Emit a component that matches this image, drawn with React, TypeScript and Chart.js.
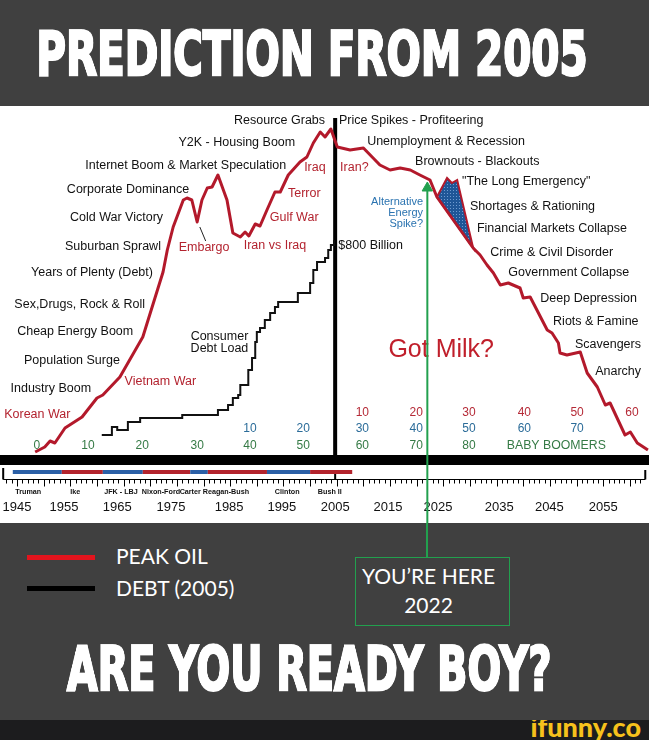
import React, { useEffect, useRef } from 'react';
import { Chart, registerables } from 'chart.js';

Chart.register(...registerables);

// ---------- scale ranges ----------
const YEAR_MIN = 1941.8;
const YEAR_MAX = 2063.6;
const LEVEL_MIN = -68;
const LEVEL_MAX = 349;

// ---------- peak oil curve ----------
const OIL_YEARS = [1948.4, 1950.2, 1951.2, 1952.1, 1954.0, 1957.2, 1960.0, 1961.1, 1964.3, 1968.6, 1972.4, 1973.2, 1974.3, 1976.2, 1976.9, 1977.8, 1978.8, 1979.7, 1980.7, 1981.6, 1982.7, 1984.4, 1985.5, 1986.9, 1987.8, 1988.5, 1989.7, 1990.6, 1991.9, 1993.4, 1994.4, 1995.9, 1998.1, 1999.4, 2000.6, 2001.9, 2002.8, 2003.9, 2005.1, 2007.5, 2010.0, 2013.1, 2015.0, 2016.9, 2018.8, 2020.6, 2022.5, 2023.8, 2030.6, 2031.9, 2033.2, 2034.4, 2035.7, 2037.2, 2039.4, 2040.0, 2041.3, 2044.5, 2045.4, 2046.6, 2046.9, 2048.2, 2050.7, 2052.0, 2053.9, 2055.4, 2056.3, 2059.1, 2060.1, 2061.4, 2063.4];
const OIL_LEVEL = [3, 8, 14, 12, 27, 38, 57, 60, 78, 118, 183, 205, 228, 255, 257, 255, 233, 255, 267, 268, 280, 255, 222, 218, 223, 219, 231, 229, 245, 263, 263, 280, 293, 298, 312, 323, 318, 326, 308, 305, 307, 290, 285, 287, 285, 280, 275, 258, 207, 200, 190, 182, 170, 172, 167, 157, 158, 125, 122, 112, 102, 100, 103, 82, 68, 50, 52, 20, 23, 12, 5];

// ---------- alternative energy spike ----------
const SPIKE_YEARS = [2023.8, 2025.7, 2026.6, 2027.6, 2030.6, 2023.8];
const SPIKE_LEVEL = [258, 277, 272, 275, 207, 258];

// ---------- consumer debt load ----------
const DEBT_YEARS = [1960.9, 1962.8, 1963.8, 1965.8, 1968.1, 1976.0, 1982.7, 1984.6, 1985.5, 1986.5, 1986.9, 1988.4, 1989.1, 1989.7, 1990.0, 1990.6, 1991.5, 1992.5, 1993.4, 1994.0, 1997.7, 2000.0, 2000.6, 2001.3, 2002.8, 2003.4, 2003.9, 2004.5];
const DEBT_LEVEL = [20, 28, 25, 33, 37, 40, 45, 50, 57, 60, 70, 85, 97, 113, 123, 127, 135, 142, 148, 153, 162, 172, 185, 193, 197, 205, 210, 215];

// ---------- markers ----------
const MARK_2005_YEAR = 2004.7;
const MARK_2005_TOP = 337;
const NOW_YEAR = 2022;
const NOW_TOP = 266;
const NOW_ARROW = 267;
const EMBARGO_POINTER_YEARS = [1979.3, 1980.4];
const EMBARGO_POINTER_LEVEL = [228, 214];

// ---------- presidents ----------
const TERM_BOUNDS = [1944.2, 1953.4, 1961.1, 1968.6, 1977.5, 1980.8, 1991.9, 2000.0, 2007.9];
const TERM_PARTY = ['D', 'R', 'D', 'R', 'D', 'R', 'D', 'R'];
const PRESIDENTS = ['Truman', 'Ike', 'JFK - LBJ', 'Nixon-Ford', 'Carter', 'Reagan-Bush', 'Clinton', 'Bush II'];
const PRESIDENT_YEARS = [1947.1, 1955.9, 1964.5, 1972.0, 1977.5, 1984.2, 1995.7, 2003.7];

// ---------- time axis ----------
const DECADE_LABELS = ['1945', '1955', '1965', '1975', '1985', '1995', '2005', '2015', '2025', '2035', '2045', '2055'];
const DECADE_YEARS = [1945.0, 1953.8, 1963.8, 1973.9, 1984.8, 1994.7, 2004.7, 2014.6, 2024.0, 2035.5, 2044.9, 2055.0];
const RULER_START = 1942.4;
const RULER_END = 2062.9;

// ---------- generation ages ----------
const AGE_TICK_YEARS = [1948.7, 1958.3, 1968.5, 1978.8, 1988.7, 1998.7, 2009.8, 2019.9, 2029.8, 2040.2, 2050.1, 2060.4];
const BOOMER_AGES = ['0', '10', '20', '30', '40', '50', '60', '70', '80'];
const GENX_AGES = ['10', '20', '30', '40', '50', '60', '70'];
const MILLENNIAL_AGES = ['10', '20', '30', '40', '50', '60'];

// ---------- annotations ----------
const RISE_EVENTS = ['Resource Grabs', 'Y2K - Housing Boom', 'Internet Boom & Market Speculation', 'Corporate Dominance', 'Cold War Victory', 'Suburban Sprawl', 'Years of Plenty (Debt)', 'Sex,Drugs, Rock & Roll', 'Cheap Energy Boom', 'Population Surge', 'Industry Boom'];
const RISE_EVENT_YEARS = [2002.8, 1997.2, 1995.5, 1977.3, 1972.4, 1972.0, 1970.5, 1969.0, 1966.8, 1964.3, 1958.9];
const RISE_EVENT_LEVEL = [334, 312, 289, 265, 237, 208, 182, 150, 123, 94, 66];

const FALL_EVENTS = ['Price Spikes - Profiteering', 'Unemployment & Recession', 'Brownouts - Blackouts', '"The Long Emergency"', 'Shortages & Rationing', 'Financial Markets Collapse', 'Crime & Civil Disorder', 'Government Collapse', 'Deep Depression', 'Riots & Famine', 'Scavengers', 'Anarchy'];
const FALL_EVENT_YEARS = [2005.4, 2010.7, 2019.7, 2028.5, 2030.0, 2031.3, 2033.8, 2037.2, 2043.2, 2045.6, 2049.7, 2053.5];
const FALL_EVENT_LEVEL = [334, 313, 293, 273, 248, 226, 202, 182, 156, 133, 110, 83];

const CONFLICTS = ['Korean War', 'Vietnam War', 'Embargo', 'Iran vs Iraq', 'Gulf War', 'Terror', 'Iraq', 'Iran?'];
const CONFLICT_YEARS = [1948.8, 1971.9, 1980.1, 1993.4, 1997.0, 1998.9, 2000.9, 2008.3];
const CONFLICT_LEVEL = [40, 73, 207, 209, 237, 261, 287, 287];

const ALT_ENERGY_LINES = ['Alternative', 'Energy', 'Spike?'];
const ALT_ENERGY_YEAR = 2021.2;
const ALT_ENERGY_LEVEL = [253, 242, 231];

const DEBT_NOTE_LINES = ['Consumer', 'Debt Load'];
const DEBT_NOTE_YEAR = 1988.4;
const DEBT_NOTE_LEVEL = [118, 106];
const DEBT_2005_TEXT = '$800 Billion';
const DEBT_2005_YEAR = 2005.3;
const DEBT_2005_LEVEL = 209;

const MILK_TEXT = 'Got Milk?';
const MILK_YEAR = 2024.6;
const MILK_LEVEL = 105;

const BOOMERS_TEXT = 'BABY BOOMERS';
const BOOMERS_YEAR = 2046.2;

// row levels
const BAR_TOP = 0;
const BAR_BOTTOM = -10;
const TERM_LEVEL = -17;
const RULER_LEVEL = -24;
const PRESIDENT_LEVEL = -37;
const DECADE_LEVEL = -52;
const BOOMER_LEVEL = 9;
const GENX_LEVEL = 26;
const MILLENNIAL_LEVEL = 42;

// ---------- colours ----------
const OIL_RED = '#b3192b';
const LABEL_RED = '#b3232f';
const DEM_BLUE = '#2a5fa6';
const REP_RED = '#b3232c';
const NOW_GREEN = '#22a04e';
const AGE_GREEN = '#357a45';
const AGE_BLUE = '#2b6c99';
const AGE_RED = '#b52a37';
const SANS = '"Liberation Sans", Arial, sans-serif';

function pts(xs: number[], ys: number[]) {
  return xs.map((x, i) => ({ x, y: ys[i] }));
}

function BannerText({ text, left, top, width, height }: { text: string; left: number; top: number; width: number; height: number }) {
  const ref = useRef<HTMLCanvasElement>(null);
  useEffect(() => {
    let cancelled = false;
    const font = 'bold 100px "Liberation Sans Narrow", "DejaVu Sans Condensed", "Liberation Sans", sans-serif';
    const draw = () => {
      if (cancelled) return;
      const canvas = ref.current;
      if (!canvas) return;
      const ctx = canvas.getContext('2d');
      if (!ctx) return;
      const off = document.createElement('canvas');
      const octx = off.getContext('2d')!;
      const lw = 4;
      octx.font = font;
      const m = octx.measureText(text);
      const inkW = m.actualBoundingBoxLeft + m.actualBoundingBoxRight;
      const inkH = m.actualBoundingBoxAscent + m.actualBoundingBoxDescent;
      const pad = 4;
      off.width = Math.ceil(inkW + lw + pad * 2);
      off.height = Math.ceil(inkH + lw + pad * 2);
      octx.font = font;
      octx.fillStyle = '#fff';
      octx.strokeStyle = '#fff';
      octx.lineWidth = lw;
      octx.lineJoin = 'miter';
      const ox = pad + lw / 2 + m.actualBoundingBoxLeft;
      const oy = pad + lw / 2 + m.actualBoundingBoxAscent;
      octx.fillText(text, ox, oy);
      octx.strokeText(text, ox, oy);
      ctx.clearRect(0, 0, width, height);
      ctx.drawImage(off, pad, pad, inkW + lw, inkH + lw, 0, 0, width, height);
    };
    (document as any).fonts.load(font, text).then(draw, draw);
    return () => {
      cancelled = true;
    };
  }, [text, width, height]);
  return <canvas ref={ref} width={width} height={height} style={{ position: 'absolute', left, top, width, height }} />;
}

export default function App() {
  const canvasRef = useRef<HTMLCanvasElement>(null);

  useEffect(() => {
    const canvas = canvasRef.current;
    if (!canvas) return;
    let chart: Chart | null = null;
    let cancelled = false;

    const build = () => {
      if (cancelled) return;
      const pc = document.createElement('canvas');
      pc.width = 3;
      pc.height = 3;
      const pctx = pc.getContext('2d')!;
      pctx.fillStyle = '#1f5697';
      pctx.fillRect(0, 0, 3, 3);
      pctx.fillStyle = '#6f9bd0';
      pctx.fillRect(0, 0, 1, 1);
      const pattern = canvas.getContext('2d')!.createPattern(pc, 'repeat');

      const text = (ctx: CanvasRenderingContext2D, s: string, x: number, y: number, align: CanvasTextAlign, font: string, color: string) => {
        ctx.font = font;
        ctx.fillStyle = color;
        ctx.textAlign = align;
        ctx.textBaseline = 'middle';
        ctx.fillText(s, x, y);
      };

      const overlay = {
        id: 'overlay',
        beforeDraw(c: any) {
          const ctx = c.ctx as CanvasRenderingContext2D;
          ctx.save();
          ctx.fillStyle = '#ffffff';
          ctx.fillRect(0, 0, c.width, c.height);
          ctx.restore();
        },
        beforeDatasetsDraw(c: any) {
          const ctx = c.ctx as CanvasRenderingContext2D;
          const xs = c.scales.x;
          const ys = c.scales.y;
          const px = (v: number) => xs.getPixelForValue(v);
          const py = (v: number) => ys.getPixelForValue(v);
          ctx.save();
          // thick black bar
          ctx.fillStyle = '#000';
          ctx.fillRect(0, py(BAR_TOP), c.width, py(BAR_BOTTOM) - py(BAR_TOP));

          // ruler
          const base = Math.round(py(RULER_LEVEL)) + 0.5;
          ctx.strokeStyle = '#000';
          ctx.lineWidth = 1;
          ctx.beginPath();
          ctx.moveTo(px(RULER_START), base);
          ctx.lineTo(px(RULER_END), base);
          for (let yr = Math.ceil(RULER_START); yr <= RULER_END; yr++) {
            const x = Math.round(px(yr)) + 0.5;
            const len = yr % 5 === 0 ? 7 : 4;
            ctx.moveTo(x, base);
            ctx.lineTo(x, base + len);
          }
          ctx.stroke();
          ctx.lineWidth = 2;
          ctx.beginPath();
          ctx.moveTo(px(RULER_START), py(BAR_BOTTOM - 3));
          ctx.lineTo(px(RULER_START), base);
          ctx.moveTo(px(MARK_2005_YEAR), py(TERM_LEVEL));
          ctx.lineTo(px(MARK_2005_YEAR), base);
          ctx.moveTo(px(RULER_END), py(BAR_BOTTOM - 5));
          ctx.lineTo(px(RULER_END), base);
          ctx.stroke();

          // presidents
          PRESIDENTS.forEach((p, i) => text(ctx, p, px(PRESIDENT_YEARS[i]), py(PRESIDENT_LEVEL), 'center', 'bold 7.2px ' + SANS, '#111'));
          // decades
          DECADE_LABELS.forEach((d, i) => text(ctx, d, px(DECADE_YEARS[i]), py(DECADE_LEVEL), 'center', '13px ' + SANS, '#111'));

          // generation ages
          BOOMER_AGES.forEach((a, i) => text(ctx, a, px(AGE_TICK_YEARS[i]), py(BOOMER_LEVEL), 'center', '12px ' + SANS, AGE_GREEN));
          GENX_AGES.forEach((a, i) => text(ctx, a, px(AGE_TICK_YEARS[i + 4]), py(GENX_LEVEL), 'center', '12px ' + SANS, AGE_BLUE));
          MILLENNIAL_AGES.forEach((a, i) => text(ctx, a, px(AGE_TICK_YEARS[i + 6]), py(MILLENNIAL_LEVEL), 'center', '12px ' + SANS, AGE_RED));
          text(ctx, BOOMERS_TEXT, px(BOOMERS_YEAR), py(BOOMER_LEVEL), 'center', '12.3px ' + SANS, AGE_GREEN);

          // events
          const ev = '12.5px ' + SANS;
          RISE_EVENTS.forEach((e, i) => text(ctx, e, px(RISE_EVENT_YEARS[i]), py(RISE_EVENT_LEVEL[i]), 'right', ev, '#111'));
          FALL_EVENTS.forEach((e, i) => text(ctx, e, px(FALL_EVENT_YEARS[i]), py(FALL_EVENT_LEVEL[i]), 'left', ev, '#111'));
          CONFLICTS.forEach((e, i) => text(ctx, e, px(CONFLICT_YEARS[i]), py(CONFLICT_LEVEL[i]), 'center', ev, LABEL_RED));
          ALT_ENERGY_LINES.forEach((e, i) => text(ctx, e, px(ALT_ENERGY_YEAR), py(ALT_ENERGY_LEVEL[i]), 'right', '11px ' + SANS, '#2a73b0'));
          DEBT_NOTE_LINES.forEach((e, i) => text(ctx, e, px(DEBT_NOTE_YEAR), py(DEBT_NOTE_LEVEL[i]), 'right', ev, '#111'));
          text(ctx, DEBT_2005_TEXT, px(DEBT_2005_YEAR), py(DEBT_2005_LEVEL), 'left', ev, '#111');
          text(ctx, MILK_TEXT, px(MILK_YEAR), py(MILK_LEVEL), 'center', '25px ' + SANS, '#c01f2b');
          ctx.restore();
        },
      };

      chart = new Chart(canvas, {
        type: 'line',
        data: {
          datasets: [
            {
              data: pts([NOW_YEAR], [NOW_ARROW]),
              pointStyle: 'triangle',
              pointRadius: 6,
              pointBackgroundColor: NOW_GREEN,
              pointBorderColor: NOW_GREEN,
              showLine: false,
              order: 0,
            },
            {
              data: pts([NOW_YEAR, NOW_YEAR], [LEVEL_MIN, NOW_TOP]),
              borderColor: NOW_GREEN,
              borderWidth: 2,
              pointRadius: 0,
              order: 1,
            },
            {
              data: pts(OIL_YEARS, OIL_LEVEL),
              borderColor: OIL_RED,
              borderWidth: 3,
              borderJoinStyle: 'round',
              pointRadius: 0,
              order: 2,
            },
            {
              data: pts(SPIKE_YEARS, SPIKE_LEVEL),
              borderColor: OIL_RED,
              borderWidth: 2,
              backgroundColor: pattern as any,
              fill: 'shape',
              pointRadius: 0,
              order: 3,
            },
            {
              data: pts(DEBT_YEARS, DEBT_LEVEL),
              borderColor: '#111',
              borderWidth: 2,
              stepped: 'before',
              pointRadius: 0,
              order: 4,
            },
            {
              data: pts([MARK_2005_YEAR, MARK_2005_YEAR], [BAR_TOP, MARK_2005_TOP]),
              borderColor: '#000',
              borderWidth: 4,
              pointRadius: 0,
              order: 5,
            },
            {
              data: pts(TERM_BOUNDS, TERM_BOUNDS.map(() => TERM_LEVEL)),
              borderWidth: 4,
              borderCapStyle: 'butt',
              pointRadius: 0,
              segment: {
                borderColor: (ctx: any) => (TERM_PARTY[ctx.p0DataIndex] === 'D' ? DEM_BLUE : REP_RED),
              },
              order: 6,
            },
            {
              data: pts(EMBARGO_POINTER_YEARS, EMBARGO_POINTER_LEVEL),
              borderColor: '#222',
              borderWidth: 1,
              pointRadius: 0,
              order: 7,
            },
          ] as any,
        },
        options: {
          animation: false,
          responsive: false,
          maintainAspectRatio: false,
          devicePixelRatio: 1,
          events: [],
          layout: { padding: 0, autoPadding: false },
          plugins: {
            legend: { display: false },
            tooltip: { enabled: false },
            title: { display: false },
          },
          scales: {
            x: { type: 'linear', min: YEAR_MIN, max: YEAR_MAX, display: false },
            y: { type: 'linear', min: LEVEL_MIN, max: LEVEL_MAX, display: false },
          },
          elements: { line: { tension: 0 }, point: { radius: 0 } },
        },
        plugins: [overlay],
      } as any);
    };

    const fonts = (document as any).fonts;
    Promise.all([fonts.load('12px "Liberation Sans"'), fonts.load('bold 12px "Liberation Sans"')]).then(build, build);

    return () => {
      cancelled = true;
      if (chart) chart.destroy();
    };
  }, []);

  const lato = 'Lato, "Open Sans", sans-serif';
  return (
    <div style={{ position: 'fixed', left: 0, top: 0, width: 649, height: 740, background: '#404040', overflow: 'hidden' }}>
      <BannerText text="PREDICTION FROM 2005" left={39} top={28} width={547} height={49} />
      <canvas ref={canvasRef} width={649} height={417} style={{ position: 'absolute', left: 0, top: 106, width: 649, height: 417 }} />
      <div style={{ position: 'absolute', left: 426, top: 523, width: 2, height: 34, background: NOW_GREEN }} />
      <div style={{ position: 'absolute', left: 27, top: 555, width: 68, height: 5, background: '#e3141d' }} />
      <div style={{ position: 'absolute', left: 27, top: 586, width: 68, height: 5, background: '#000' }} />
      <div style={{ position: 'absolute', left: 116, top: 544, fontFamily: lato, fontSize: 21, lineHeight: '24px', color: '#fff', whiteSpace: 'nowrap' }}>PEAK OIL</div>
      <div style={{ position: 'absolute', left: 116, top: 576, fontFamily: lato, fontSize: 21, lineHeight: '24px', color: '#fff', whiteSpace: 'nowrap' }}>DEBT (2005)</div>
      <div style={{ position: 'absolute', left: 355, top: 557, width: 155, height: 69, border: '1px solid ' + NOW_GREEN, boxSizing: 'border-box' }} />
      <div style={{ position: 'absolute', left: 355, top: 564, width: 147, textAlign: 'center', fontFamily: lato, fontSize: 21, lineHeight: '24px', color: '#fff', whiteSpace: 'nowrap' }}>YOU’RE HERE</div>
      <div style={{ position: 'absolute', left: 355, top: 593, width: 147, textAlign: 'center', fontFamily: lato, fontSize: 21, lineHeight: '24px', color: '#fff', whiteSpace: 'nowrap' }}>2022</div>
      <BannerText text="ARE YOU READY BOY?" left={66} top={643} width={484} height={49} />
      <div style={{ position: 'absolute', left: 0, top: 720, width: 649, height: 20, background: '#1c1c1e', overflow: 'hidden' }}>
        <div style={{ position: 'absolute', right: 8, top: -8, fontFamily: lato, fontWeight: 900, fontSize: 27, lineHeight: '30px', color: '#f6c11c', whiteSpace: 'nowrap' }}>ifunny.co</div>
      </div>
    </div>
  );
}
